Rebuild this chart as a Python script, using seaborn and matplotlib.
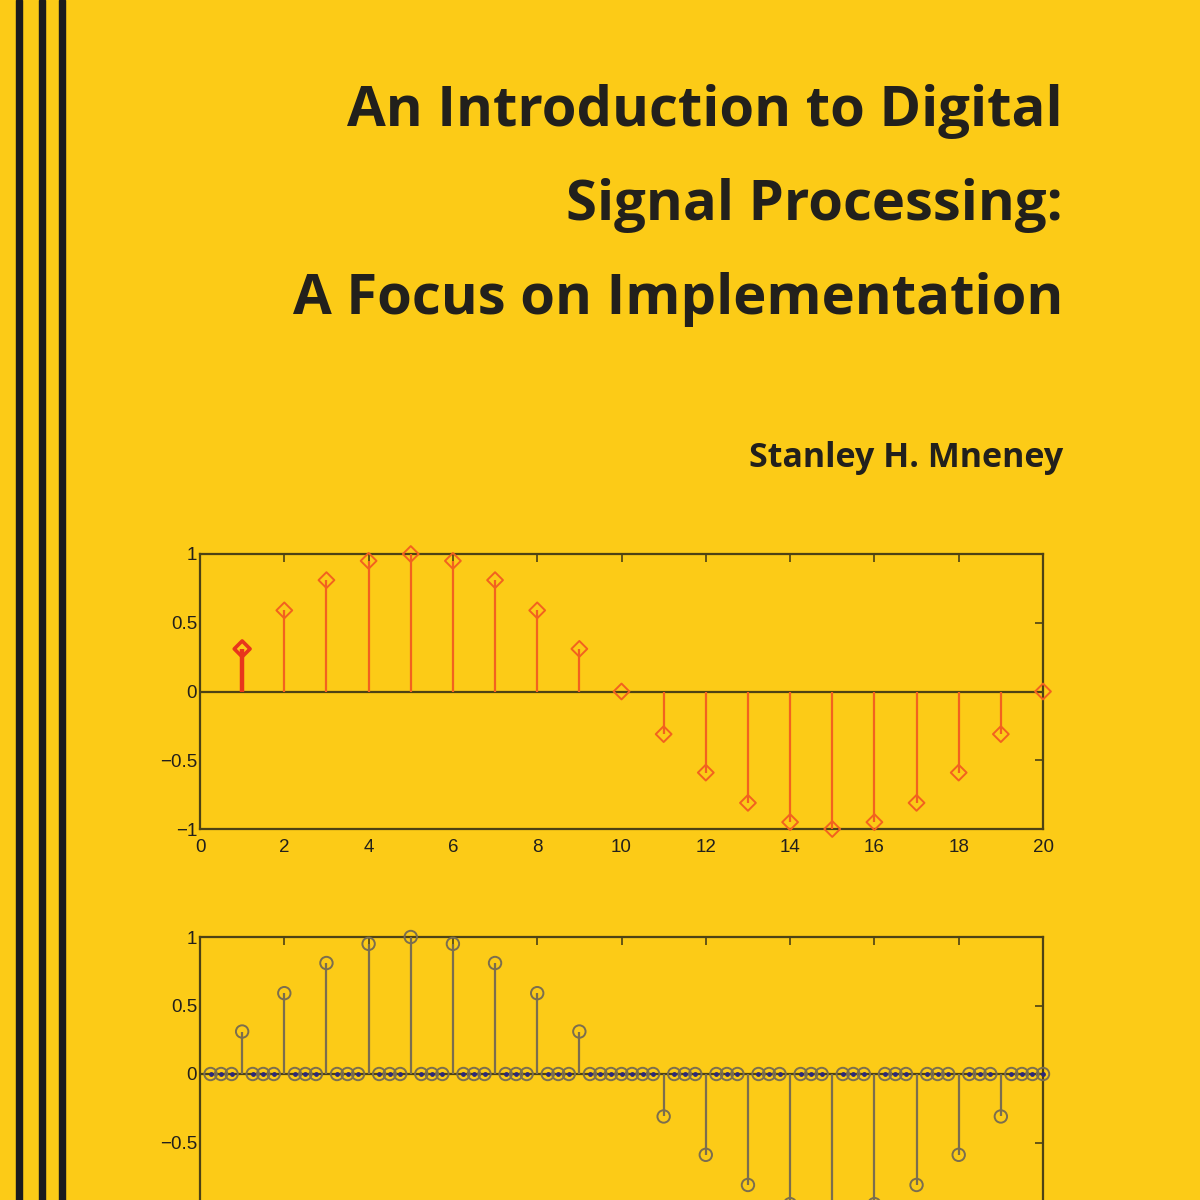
import numpy as np
import pandas as pd
import matplotlib
matplotlib.use('Agg')
import matplotlib.pyplot as plt
import seaborn as sns

#------------------------------------------------
# data
n_top = list(range(1, 21))
x_top = [0.31, 0.59, 0.81, 0.95, 1.0, 0.95, 0.81, 0.59, 0.31, 0.0,
         -0.31, -0.59, -0.81, -0.95, -1.0, -0.95, -0.81, -0.59, -0.31, 0.0]
up_factor = 4

title_lines = ['An Introduction to Digital', 'Signal Processing:', 'A Focus on Implementation']
author = 'Stanley H. Mneney'

x_ticks = [0, 2, 4, 6, 8, 10, 12, 14, 16, 18, 20]
y_ticks = [-1, -0.5, 0, 0.5, 1]
y_ticklabels = ['\u22121', '\u22120.5', '0', '0.5', '1']

# upsampled signal: zeros inserted between samples
n_bot, x_bot = [], []
for n, v in zip(n_top, x_top):
    for k in range(1, up_factor + 1):
        n_bot.append(n - 1 + k / up_factor)
        x_bot.append(v if k == up_factor else 0.0)

df_top = pd.DataFrame({'n': n_top, 'x': x_top})
df_bot = pd.DataFrame({'n': n_bot, 'x': x_bot})

#------------------------------------------------
bg = '#fccb17'
ink = '#22201c'
frame = '#4d4214'

sns.set_style('white')
plt.rcParams['font.family'] = ['Liberation Sans', 'DejaVu Sans']

fig = plt.figure(figsize=(12, 12), dpi=100)
fig.patch.set_facecolor(bg)

# side stripes
for x0, w in [(16, 6), (39, 6), (59, 6)]:
    fig.patches.append(plt.Rectangle((x0 / 1200, 0), w / 1200, 1, transform=fig.transFigure,
                                     color='#1b1b1d', zorder=0))

# title
title_font = ['Open Sans', 'DejaVu Sans']
for txt, y in zip(title_lines, [126, 220, 314]):
    fig.text(1063 / 1200, 1 - y / 1200, txt, ha='right', va='baseline', fontsize=40.5,
             family=title_font, weight='bold', color=ink)
fig.text(1063 / 1200, 1 - 467 / 1200, author, ha='right', va='baseline', fontsize=24.5,
         family=title_font, weight='bold', color=ink)


def style_ax(ax, xlabels=True):
    ax.set_facecolor(bg)
    ax.set_xlim(0, 20)
    ax.set_ylim(-1, 1)
    ax.set_xticks(x_ticks)
    ax.set_xticklabels([str(t) for t in x_ticks])
    ax.set_yticks(y_ticks)
    ax.set_yticklabels(y_ticklabels)
    ax.tick_params(direction='in', top=True, right=True, length=6, width=1.2,
                   color=frame, labelsize=13.5, labelcolor=ink)
    ax.tick_params(axis='y', pad=2)
    ax.tick_params(axis='x', pad=7, labelbottom=xlabels)
    for s in ax.spines.values():
        s.set_visible(True)
        s.set_color(frame)
        s.set_linewidth(1.6)
    ax.axhline(0, color=frame, lw=1.6, zorder=2)
    ax.set_xlabel('')
    ax.set_ylabel('')


#top plot
ax1 = fig.add_axes([200 / 1200, 1 - 829 / 1200, 843 / 1200, 275 / 1200])
stem_c = '#f2621f'
ax1.vlines(df_top['n'][1:], 0, df_top['x'][1:], color=stem_c, lw=1.6, zorder=3)
ax1.vlines(df_top['n'][:1], 0, df_top['x'][:1], color='#e8361c', lw=3.2, zorder=3)
sns.scatterplot(data=df_top, x='n', y='x', ax=ax1, marker='D', s=65,
                facecolor='none', edgecolor=stem_c, linewidth=1.4, zorder=4, clip_on=False)
ax1.scatter(df_top['n'][:1], df_top['x'][:1], marker='D', s=65, facecolor='none',
            edgecolor='#e8361c', linewidth=2.6, zorder=5)
style_ax(ax1)

#bottom plot (runs off the page bottom)
ax2 = fig.add_axes([200 / 1200, -11 / 1200, 843 / 1200, 274 / 1200])
grey = '#7b6e4e'
ax2.vlines(df_bot['n'], 0, df_bot['x'], color=grey, lw=1.6, zorder=3)
sns.scatterplot(data=df_bot, x='n', y='x', ax=ax2, marker='o', s=80,
                facecolor='none', edgecolor=grey, linewidth=1.4, zorder=4, clip_on=False)
zeros = df_bot[df_bot['x'] == 0]
ax2.scatter(zeros['n'], zeros['x'], marker='o', s=6, color='#2d2a7a', zorder=5, clip_on=False)
style_ax(ax2, xlabels=False)
ax2.set_yticks(y_ticks[1:])
ax2.set_yticklabels(y_ticklabels[1:])

fig.savefig('out.png', dpi=100, facecolor=bg)
plt.close()
